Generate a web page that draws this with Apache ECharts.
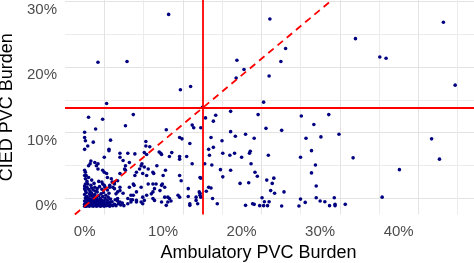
<!DOCTYPE html>
<html>
<head>
<meta charset="utf-8">
<script src="https://cdn.jsdelivr.net/npm/echarts@6/dist/echarts.min.js"></script>
<style>
  html, body { margin: 0; padding: 0; background: #fff; }
  #chart { width: 474px; height: 263px; }
</style>
</head>
<body>
<div id="chart"></div>
<script>
// Ambulatory vs CIED PVC burden, values in percent [ambulatory, cied]
const upperPoints = [
  [10.7, 29.3], [1.7, 22.0], [5.4, 22.1], [2.8, 15.7], [12.2, 17.8], [13.5, 18.3],
  [19.4, 22.3], [19.3, 19.6], [23.6, 28.6], [20.3, 20.9], [25.6, 24.1], [25.0, 22.1],
  [23.5, 19.9], [22.8, 15.9], [34.5, 25.6], [37.6, 22.8], [38.4, 22.6], [45.7, 28.1],
  [47.2, 18.5], [15.0, 15.1]
];

const midRightPoints = [
  [15.4, 13.5], [16.7, 13.9], [16.4, 13.0], [18.6, 14.5], [22.1, 14.0], [27.6, 13.8],
  [29.2, 12.5], [31.1, 14.0], [23.1, 11.9], [25.1, 11.6], [18.6, 11.4], [19.2, 10.7],
  [20.5, 11.0], [21.6, 10.4], [28.2, 10.4], [30.1, 10.6], [32.4, 11.0], [44.2, 10.3],
  [45.2, 7.2], [34.2, 7.4], [40.1, 5.6], [18.5, 7.8], [19.1, 8.1], [20.0, 7.5],
  [21.1, 8.4], [21.0, 8.1], [23.4, 7.8], [27.5, 7.5], [28.9, 8.5], [29.4, 6.3],
  [28.9, 5.1], [18.6, 5.5], [21.2, 6.5], [21.7, 5.2], [16.1, 10.5], [17.5, 10.0],
  [15.8, 8.7], [16.4, 9.0], [15.9, 7.8], [17.6, 8.1], [15.3, 6.5], [16.2, 6.3],
  [17.3, 5.6]
];

const lowRightPoints = [
  [22.0, 4.6], [19.8, 3.5], [20.9, 3.6], [23.2, 4.0], [24.1, 4.3], [23.9, 3.5],
  [23.7, 2.4], [24.2, 2.0], [25.4, 2.2], [29.5, 3.1], [22.6, 1.3], [22.9, 0.7],
  [23.5, 0.7], [27.5, 1.1], [28.1, 0.6], [29.5, 1.3], [30.0, 0.8], [30.6, 0.7],
  [31.8, 1.3], [31.9, 0.3], [31.9, 0.1], [33.2, 0.3], [31.2, 0.1], [27.3, 0.05],
  [25.1, 0.05], [22.3, 0.1], [23.3, 0.1], [20.5, 0.15], [21.4, 0.4], [21.6, 0.3],
  [22.8, 0.1], [37.9, 1.4], [17.6, 4.5], [14.8, 4.3], [15.8, 2.9], [16.1, 2.8],
  [15.5, 2.3], [14.7, 2.0], [16.3, 1.2], [16.9, 0.4], [14.8, 1.4], [14.2, 0.9]
];

const leftMidPoints = [
  [0.5, 13.6], [2.3, 13.3], [6.2, 14.0], [5.2, 12.3], [1.4, 11.8], [10.4, 11.7],
  [13.7, 12.4], [13.9, 12.0], [14.8, 12.0], [0.0, 11.3], [0.0, 10.5], [0.1, 10.0],
  [1.1, 9.8], [0.4, 9.2], [0.0, 8.7], [3.3, 10.1], [3.1, 8.7], [3.1, 8.5],
  [4.5, 8.1], [5.5, 8.1], [7.8, 9.9], [7.8, 9.2], [8.3, 9.1], [7.6, 8.2],
  [9.5, 8.3], [9.7, 8.1], [9.8, 7.9], [11.1, 8.2], [12.1, 10.5], [12.4, 10.3],
  [13.4, 9.6], [10.8, 7.6], [12.1, 7.6], [13.0, 7.6], [12.1, 7.2], [7.9, 7.9],
  [0.7, 6.5], [0.5, 6.2], [0.0, 5.5], [1.7, 5.7], [2.3, 5.5], [1.7, 6.5],
  [5.2, 6.2], [5.2, 5.5], [6.4, 8.0], [5.7, 6.7], [7.0, 5.7], [7.3, 6.5],
  [8.1, 5.7], [8.7, 5.2], [9.2, 6.2], [10.3, 5.5], [8.8, 5.0], [13.7, 6.5],
  [1.3, 6.7], [1.5, 6.2], [0.8, 6.9], [4.5, 7.5], [4.9, 7.0], [2.5, 7.5],
  [5.1, 5.7], [7.2, 6.2], [7.6, 6.0], [7.4, 5.0], [6.6, 5.2], [0.1, 5.2],
  [2.5, 5.2]
];

const leftLowPoints = [
  [0.0, 4.7], [2.8, 5.0], [3.5, 3.7], [4.5, 5.0], [4.2, 3.9], [10.0, 4.7],
  [9.8, 3.2], [9.6, 2.4], [10.6, 1.4], [10.6, 0.65], [11.9, 1.7], [12.1, 4.7],
  [12.3, 3.9], [13.2, 2.7], [13.4, 0.15], [14.6, 2.2], [14.7, 4.4], [7.4, 0.4],
  [6.6, 0.65], [5.9, 0.65], [5.5, 0.4], [4.2, 1.2], [4.5, 0.65], [7.4, 1.4],
  [7.9, 1.7], [8.5, 1.9], [8.9, 2.7], [9.1, 3.4], [6.6, 2.2], [6.2, 1.7],
  [5.7, 2.9], [6.2, 3.4], [9.8, 0.65], [10.4, 0.15], [4.5, 2.4], [4.0, 1.9],
  [3.8, 3.4], [3.6, 2.9], [2.9, 4.4], [3.4, 4.2], [2.2, 3.7], [3.8, 3.7],
  [2.5, 3.2], [3.2, 2.9], [3.8, 2.7], [4.5, 2.9], [4.2, 2.2], [4.9, 2.0],
  [5.5, 1.2], [5.9, 1.0], [0.1, 3.4], [0.1, 4.2], [0.2, 4.7], [6.3, 3.2],
  [7.2, 2.9], [8.1, 3.4], [8.7, 3.4], [8.7, 2.2], [9.9, 3.4], [10.2, 2.9],
  [10.2, 1.4], [10.8, 1.2], [11.0, 0.8], [5.9, 1.7], [6.1, 1.0], [6.6, 0.9],
  [7.2, 0.65], [7.6, 0.9], [8.7, 1.2], [8.9, 0.9], [12.1, 1.4], [13.2, 1.5],
  [13.4, 0.4], [14.4, 0.4], [14.2, 1.4], [14.7, 1.7], [6.4, 4.7], [7.9, 4.7]
];

const clusterPoints = [
  [0.0, 0.0], [0.1, 0.1], [0.2, 0.0], [0.3, 0.2], [0.0, 0.3], [0.1, 0.5], [0.4, 0.1],
  [0.5, 0.4], [0.6, 0.0], [0.7, 0.2], [0.8, 0.5], [0.9, 0.1], [1.0, 0.3], [1.1, 0.0],
  [1.2, 0.6], [1.3, 0.2], [1.4, 0.4], [1.5, 0.0], [1.6, 0.3], [1.7, 0.1], [1.8, 0.5],
  [1.9, 0.2], [2.0, 0.0], [2.1, 0.4], [2.2, 0.1], [2.3, 0.3], [2.5, 0.0], [2.6, 0.2],
  [2.8, 0.1], [3.0, 0.3], [3.2, 0.0], [3.4, 0.2], [3.6, 0.1], [0.0, 0.8], [0.2, 1.0],
  [0.1, 1.3], [0.4, 0.9], [0.3, 1.5], [0.0, 1.8], [0.2, 2.1], [0.1, 2.4], [0.0, 2.7],
  [0.3, 2.9], [0.0, 3.1], [0.5, 1.2], [0.6, 0.8], [0.7, 1.6], [0.8, 1.1], [0.9, 2.0],
  [1.0, 0.8], [1.1, 1.4], [1.2, 1.0], [1.3, 1.8], [1.4, 0.9], [1.5, 1.3], [1.6, 2.2],
  [1.7, 1.0], [1.8, 1.6], [1.9, 0.8], [2.0, 1.2], [2.1, 1.9], [2.2, 0.9], [2.3, 1.5],
  [2.4, 2.1], [2.5, 0.8], [2.6, 1.2], [2.7, 1.7], [2.9, 0.9], [3.0, 1.4], [3.1, 2.0],
  [3.3, 1.1], [3.5, 0.7], [0.5, 2.6], [0.7, 2.3], [0.9, 2.8], [1.1, 2.5], [1.3, 2.9],
  [0.4, 3.4], [0.8, 3.2], [1.2, 3.5], [1.6, 2.7], [1.9, 3.0], [2.2, 2.6], [2.6, 2.9],
  [2.9, 2.5], [3.2, 3.2], [0.6, 1.9], [1.0, 1.6], [1.4, 2.3], [0.3, 0.6], [0.6, 0.5],
  [1.1, 0.7], [1.6, 0.7], [2.0, 0.6], [2.4, 0.5], [2.8, 0.5], [3.2, 0.6], [3.8, 0.3],
  [4.0, 0.1], [4.3, 0.4], [4.6, 0.2], [3.9, 1.0], [4.2, 0.8], [0.9, 4.0], [0.3, 3.8],
  [0.5, 4.4], [1.8, 3.8], [2.3, 3.4], [4.8, 0.5], [5.0, 0.1]
];

const allPoints = [].concat(upperPoints, midRightPoints, lowRightPoints,
  leftMidPoints, leftLowPoints, clusterPoints);

// thresholds and axis setup
const cutoff = 15;
const xRange = [-2.5, 49.6];
const yRange = [-1.25, 31.5];

const chart = echarts.init(document.getElementById('chart'));
const FONT = "'Liberation Sans', Arial, sans-serif";
const NONE = 'rgba(0,0,0,0)';
const MAJOR = '#e3e3e3';
const MINOR = '#ececec';

function pctLabel(v) {
  return Math.abs(v % 10) < 1e-6 ? Math.round(v) + '%' : '';
}

chart.setOption({
  animation: false,
  backgroundColor: '#fff',
  grid: { left: 65, right: 0, top: 0, bottom: 48.5, containLabel: false, outerBoundsMode: 'none' },
  xAxis: {
    type: 'value',
    min: xRange[0],
    max: xRange[1],
    interval: 2.5,
    axisLine: { show: false },
    axisTick: { show: false },
    axisLabel: { formatter: pctLabel, color: '#4d4d4d', fontSize: 15, fontFamily: FONT, margin: 10 },
    splitLine: { show: true, showMinLine: false, showMaxLine: false,
      lineStyle: { color: [NONE, MAJOR, NONE, MINOR], width: 1 } },
    name: 'Ambulatory PVC Burden',
    nameLocation: 'middle',
    nameGap: 29,
    nameTextStyle: { color: '#000', fontSize: 18, fontFamily: FONT, padding: [0, 22, 0, 0] }
  },
  yAxis: {
    type: 'value',
    min: yRange[0],
    max: yRange[1],
    interval: 1.25,
    axisLine: { show: false },
    axisTick: { show: false },
    axisLabel: { formatter: pctLabel, color: '#4d4d4d', fontSize: 15, fontFamily: FONT, margin: 8 },
    splitLine: { show: true, showMinLine: false, showMaxLine: false,
      lineStyle: { color: [NONE, MAJOR, NONE, NONE, NONE, MINOR, NONE, NONE], width: 1 } },
    name: 'CIED PVC Burden',
    nameLocation: 'middle',
    nameGap: 42,
    nameTextStyle: { color: '#000', fontSize: 18, fontFamily: FONT }
  },
  series: [{
    type: 'scatter',
    data: allPoints,
    symbol: 'circle',
    symbolSize: 3.6,
    itemStyle: { color: '#000080', opacity: 1 },
    silent: true,
    markLine: {
      silent: true,
      symbol: 'none',
      label: { show: false },
      lineStyle: { color: '#ff0000', width: 1.8, type: 'solid' },
      data: [
        { xAxis: cutoff },
        { yAxis: cutoff },
        [
          { coord: [yRange[0], yRange[0]], lineStyle: { type: [7, 5], color: '#ff0000', width: 1.8 } },
          { coord: [yRange[1], yRange[1]] }
        ]
      ]
    }
  }]
});

window.addEventListener('resize', function () { chart.resize(); });
</script>
</body>
</html>
